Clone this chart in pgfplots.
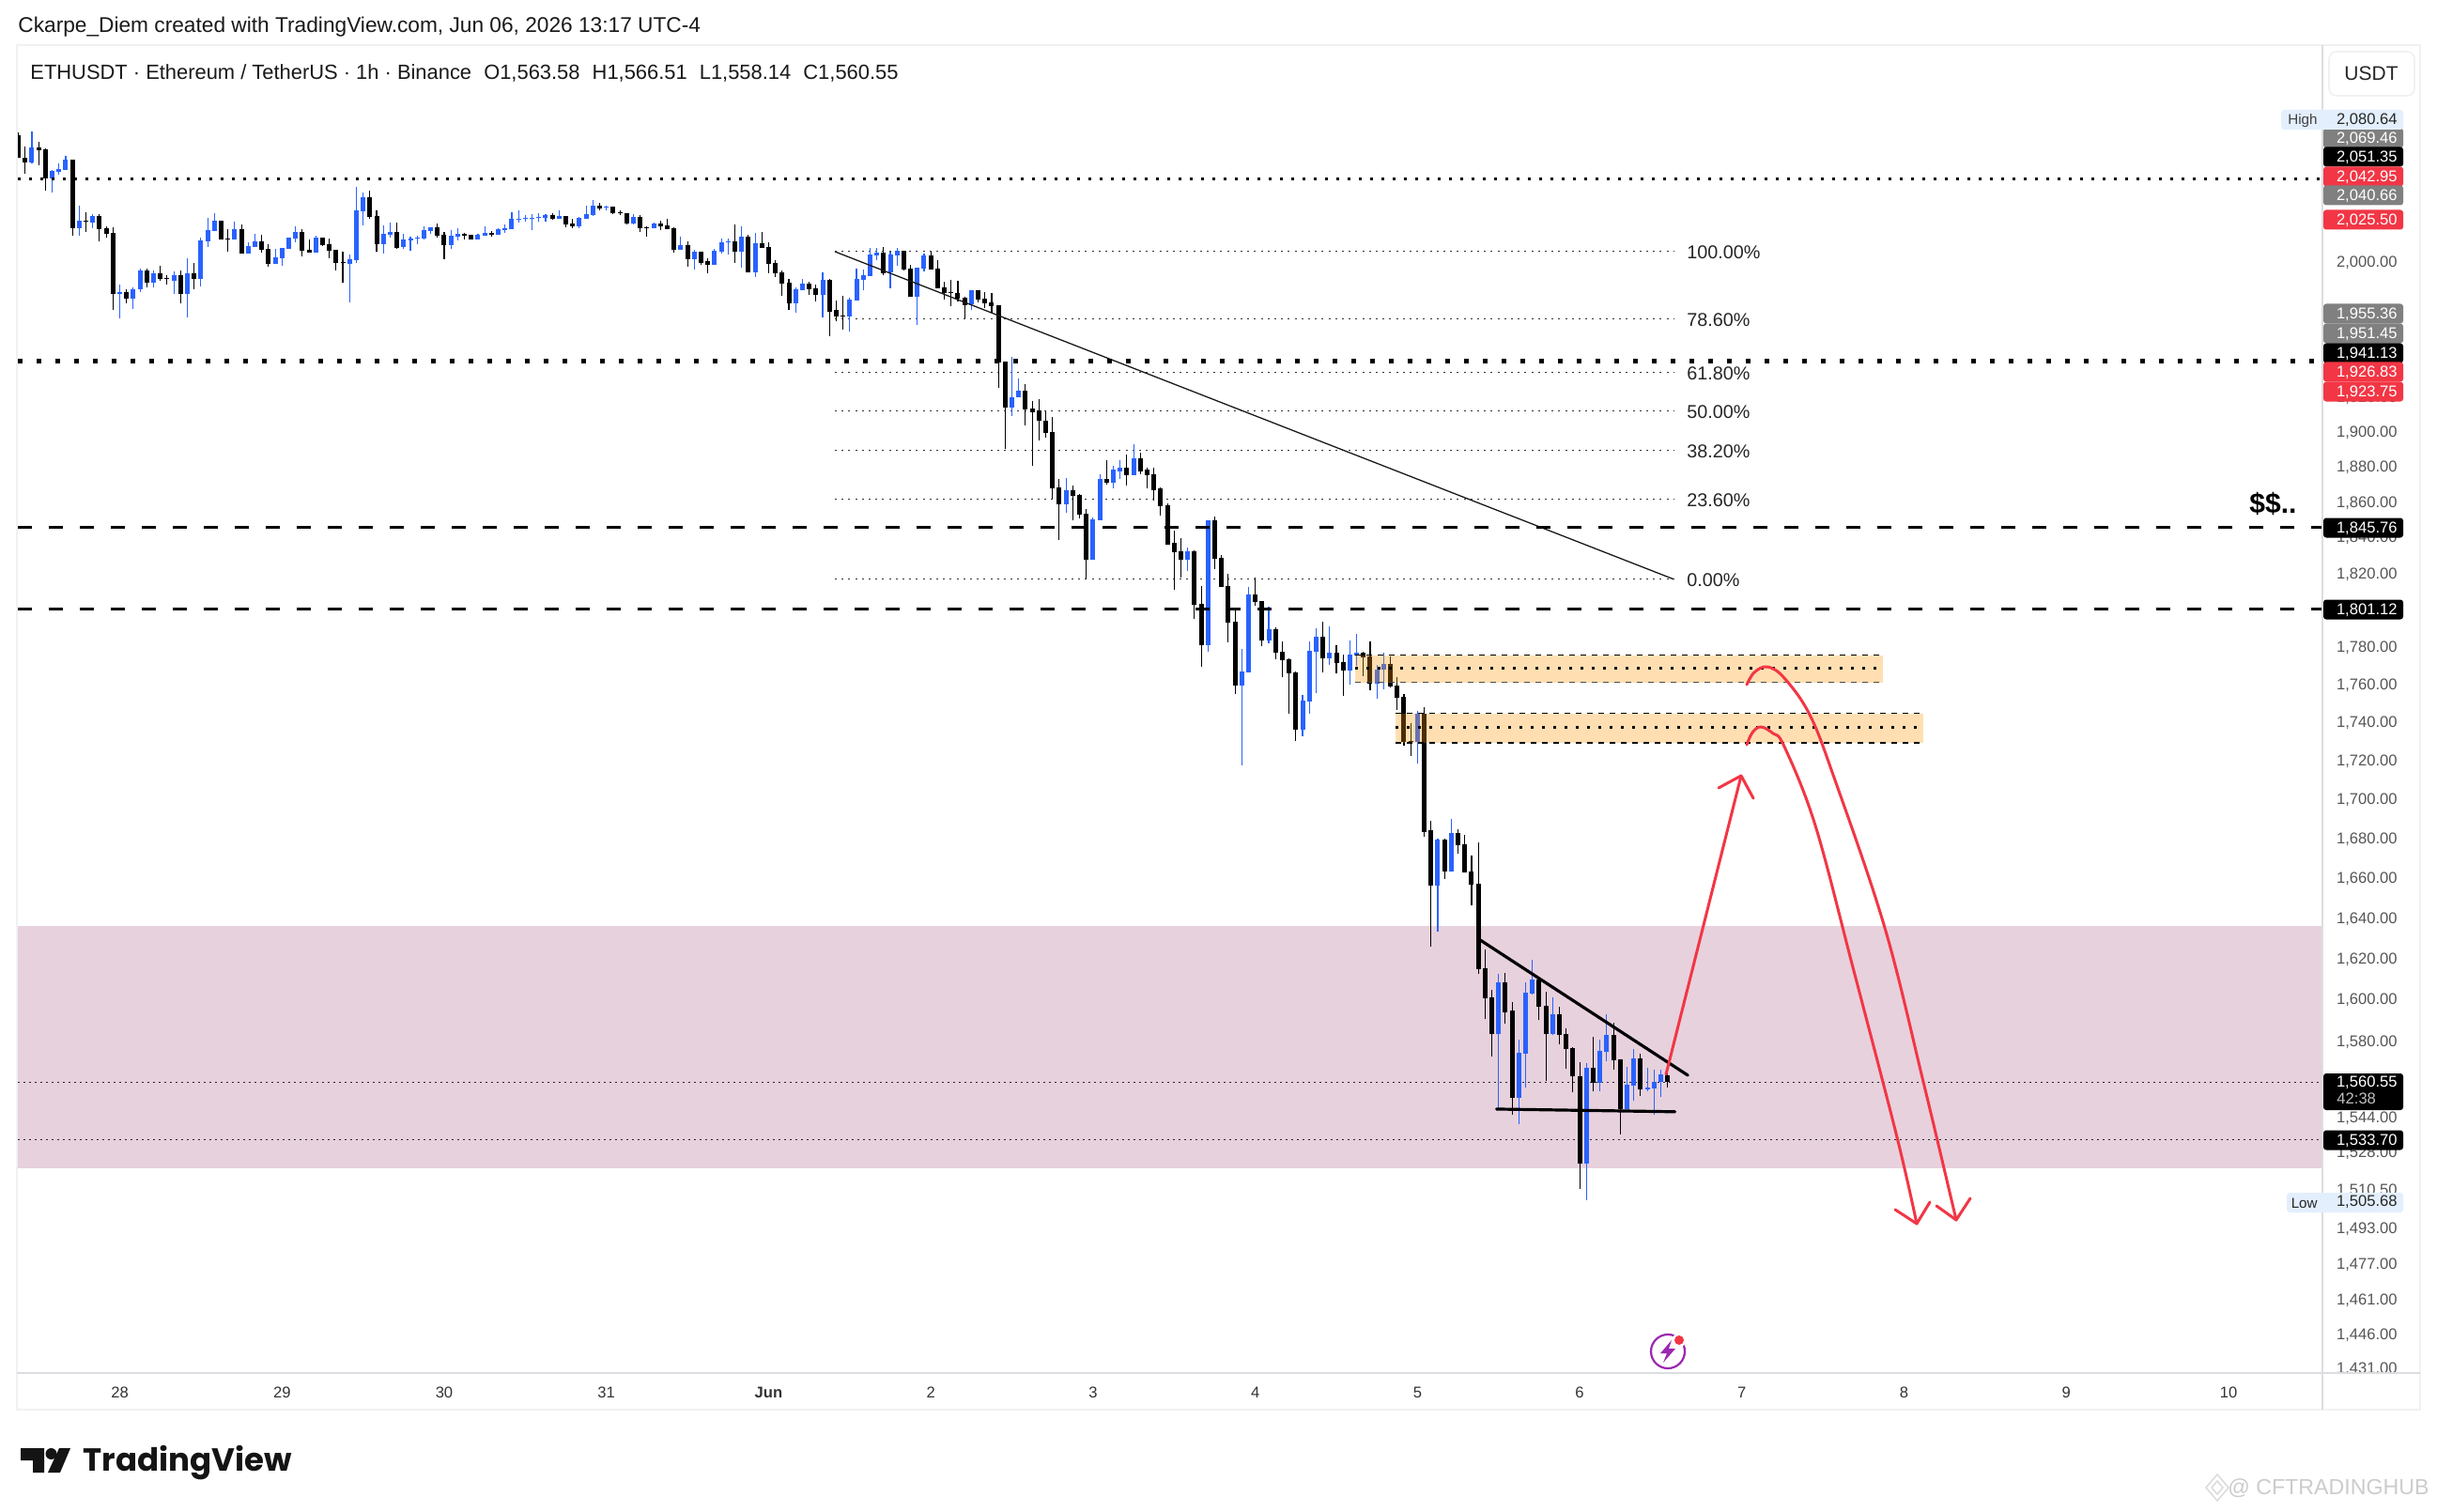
\documentclass[border=0pt]{standalone}
\usepackage{pgfplots}
\usepackage{pgfplotstable}
\usepackage{fontspec}
\setmainfont{Liberation Sans}
\newfontfamily\logofont{Poppins}
\pgfplotsset{compat=1.18}
\definecolor{tvblue}{HTML}{2962FF}
\definecolor{tvred}{HTML}{F23645}
\definecolor{tvgray}{HTML}{808080}
\definecolor{tvpink}{HTML}{E7D1DD}
\definecolor{tvorange}{HTML}{FF9800}
\definecolor{tvframe}{HTML}{F0F1F3}
\definecolor{tvsep}{HTML}{DCDDE0}
\definecolor{tvtick}{HTML}{555555}
\definecolor{tvlight}{HTML}{E3EFFD}
\definecolor{tvpurple}{HTML}{9C27B0}
% x = hours since 28 May 00:00, hi / body top / body bottom / lo = prices
\pgfplotstableread{
x hi top bot lo
-13 2080.6 2070.6 2061.1 2060.5
-10 2056.4 2055.8 2051.1 2042.2
-9 2060.5 2057.0 2055.2 2053.5
-8 2065.3 2062.9 2056.4 2056.4
-6 2034.0 2024.8 2020.3 2015.7
-4 2028.8 2027.7 2023.7 2020.3
0 1986.2 1982.2 1980.5 1966.5
2 1984.5 1983.9 1977.7 1972.1
3 1996.4 1995.3 1983.4 1982.2
5 1995.3 1993.6 1987.3 1984.5
8 1994.1 1991.9 1989.0 1981.1
10 2002.1 1993.6 1980.5 1967.0
12 2014.6 2012.9 1989.6 1985.1
13 2026.5 2019.1 2012.3 2008.9
14 2029.4 2024.8 2018.6 2018.6
17 2024.2 2019.7 2013.5 2013.5
19 2011.8 2009.5 2004.9 2004.9
20 2016.9 2012.3 2008.9 2008.9
23 2007.8 2002.7 1998.7 1998.7
24 2008.3 2008.3 2002.1 1998.1
25 2014.6 2014.6 2007.8 2007.8
26 2021.4 2018.0 2014.0 2011.8
29 2015.7 2014.6 2005.5 2005.5
34 2004.4 2001.5 1998.7 1976.0
35 2045.8 2031.1 2001.0 1999.3
36 2042.2 2039.3 2030.5 2022.0
39 2022.0 2016.9 2010.6 2004.9
40 2023.7 2018.0 2016.3 2014.6
42 2016.9 2013.5 2008.9 2007.8
43 2015.2 2014.0 2012.9 2006.6
44 2015.7 2014.6 2014.0 2010.6
45 2021.4 2019.1 2014.0 2013.5
46 2020.8 2020.8 2018.6 2016.9
49 2019.1 2015.7 2010.1 2007.8
50 2020.3 2016.9 2015.2 2012.9
53 2016.9 2016.3 2013.5 2013.5
54 2021.4 2017.4 2015.7 2015.7
56 2020.3 2019.7 2016.3 2016.3
57 2022.5 2020.3 2019.1 2017.4
58 2029.9 2025.9 2019.7 2019.7
59 2031.6 2025.9 2025.4 2023.7
60 2028.3 2026.5 2025.9 2024.2
61 2028.8 2026.5 2025.9 2019.0
62 2029.4 2027.1 2026.5 2024.2
63 2028.8 2028.2 2026.5 2024.2
65 2031.1 2027.6 2025.9 2025.9
68 2027.1 2026.5 2021.3 2020.2
69 2033.9 2028.8 2025.9 2025.9
70 2037.4 2033.9 2028.2 2027.6
72 2034.5 2033.4 2032.8 2031.1
76 2028.8 2027.1 2023.1 2022.5
79 2023.6 2023.1 2020.2 2020.2
83 2015.0 2009.9 2007.0 2007.0
85 2007.0 2005.9 2001.3 1995.5
88 2007.6 2006.4 1998.4 1998.4
89 2013.9 2011.6 2005.9 2004.7
90 2013.9 2012.2 2011.6 2004.1
92 2021.3 2015.0 2005.9 1996.7
94 2017.3 2011.0 1993.8 1991.0
100 1984.8 1983.7 1975.3 1969.8
101 1989.8 1987.0 1983.1 1983.1
104 1993.8 1989.2 1980.3 1967.0
108 1978.6 1977.5 1967.5 1958.6
109 1996.1 1989.8 1977.0 1977.0
110 1995.5 1992.1 1989.2 1983.1
111 2008.2 2004.1 1991.5 1991.5
112 2008.2 2005.3 2003.6 2000.7
114 2005.9 2004.1 1993.8 1984.2
115 2008.2 2006.4 2003.6 1997.8
118 1996.7 1996.7 1979.2 1962.5
119 2004.7 2003.6 1996.1 1994.4
126 1983.1 1983.1 1974.8 1971.4
132 1943.5 1920.1 1914.1 1909.2
133 1930.9 1923.9 1919.5 1919.5
140 1873.7 1866.7 1858.7 1854.0
144 1851.4 1850.4 1827.5 1827.5
145 1875.8 1873.2 1849.8 1849.8
147 1880.1 1878.0 1871.0 1867.8
148 1883.3 1879.6 1877.4 1873.2
150 1892.9 1884.4 1875.3 1874.8
158 1834.3 1832.2 1827.5 1821.3
161 1849.8 1849.8 1781.0 1777.5
166 1779.0 1766.9 1759.3 1717.5
167 1812.5 1808.7 1766.4 1766.4
170 1801.7 1789.6 1783.5 1782.0
175 1754.3 1751.4 1736.2 1732.7
176 1783.0 1777.9 1750.9 1744.5
177 1790.1 1785.5 1777.5 1755.3
179 1791.1 1777.0 1773.9 1770.4
182 1783.5 1776.0 1767.4 1760.0
183 1787.0 1777.0 1775.5 1769.9
186 1770.4 1768.1 1760.3 1752.3
187 1777.0 1770.9 1767.9 1757.3
192 1746.0 1744.5 1729.7 1718.5
195 1679.6 1679.1 1656.0 1633.2
197 1689.5 1682.5 1663.1 1663.1
204 1612.5 1608.4 1583.2 1547.3
207 1580.5 1574.3 1552.9 1540.7
208 1608.4 1603.3 1573.8 1557.7
209 1619.4 1609.8 1602.9 1602.4
212 1601.1 1593.0 1583.2 1582.7
217 1569.3 1567.1 1522.5 1505.7
219 1580.5 1575.2 1560.0 1556.4
220 1593.0 1582.7 1574.7 1570.2
223 1567.6 1559.1 1547.7 1547.7
224 1576.0 1571.5 1558.6 1551.6
226 1567.1 1557.7 1556.8 1556.4
227 1566.3 1560.8 1557.3 1545.1
228 1566.3 1564.0 1560.4 1553.4
}\upcandles
\pgfplotstableread{
x hi top bot lo
-15 2079.8 2078.2 2063.7 2063.7
-14 2071.2 2064.1 2061.1 2054.0
-12 2074.1 2070.6 2068.8 2059.4
-11 2069.8 2069.4 2051.1 2043.4
-7 2062.9 2062.9 2020.3 2015.7
-5 2029.9 2024.8 2024.2 2018.0
-3 2028.8 2027.7 2019.7 2012.3
-2 2021.4 2020.3 2016.9 2014.6
-1 2020.8 2017.4 1980.5 1971.5
1 1983.4 1982.2 1977.7 1975.4
4 1995.9 1995.3 1987.3 1984.5
6 1998.1 1993.6 1989.6 1988.5
7 1992.4 1990.2 1989.6 1986.2
9 1994.7 1991.9 1980.5 1974.9
11 1999.3 1993.6 1989.6 1983.4
15 2024.8 2024.8 2013.5 2013.5
16 2019.7 2014.0 2013.5 2006.1
18 2022.5 2019.7 2004.9 2004.9
21 2016.3 2012.3 2007.2 2005.5
22 2010.6 2007.8 1998.7 1997.0
27 2019.7 2018.0 2006.6 2003.2
28 2013.5 2007.2 2005.5 2005.5
30 2014.6 2014.6 2010.1 2009.5
31 2014.0 2010.6 2006.6 2002.1
32 2007.2 2007.2 1999.3 1994.7
33 2006.1 1999.8 1999.3 1987.9
37 2043.4 2039.3 2027.1 2026.0
38 2031.1 2027.7 2010.6 2006.1
41 2023.7 2018.0 2008.3 2007.8
47 2023.1 2020.8 2015.7 2014.6
48 2018.0 2016.3 2010.1 2001.5
51 2017.4 2016.9 2015.7 2013.5
52 2016.3 2016.3 2013.5 2013.5
55 2018.6 2017.4 2016.3 2015.2
64 2029.4 2028.2 2025.9 2025.3
66 2027.6 2027.6 2022.5 2020.8
67 2025.9 2023.1 2021.3 2020.2
71 2036.2 2033.9 2032.2 2031.6
73 2033.4 2033.4 2029.4 2028.8
74 2031.1 2029.9 2029.4 2028.2
75 2029.4 2029.4 2023.1 2022.5
77 2028.2 2027.1 2020.2 2017.9
78 2021.3 2020.8 2020.2 2015.0
80 2024.8 2023.1 2021.3 2019.0
81 2025.9 2021.9 2019.6 2019.6
82 2020.8 2020.2 2007.0 2005.3
84 2012.2 2009.9 2001.3 1997.3
86 2005.9 2005.9 1999.6 1998.4
87 2001.9 2000.1 1998.4 1993.3
91 2022.5 2012.2 2005.9 1999.6
93 2016.2 2015.0 1993.8 1993.8
95 2017.9 2011.0 2008.2 2008.2
96 2011.6 2008.7 1999.0 1993.3
97 2000.7 1999.6 1993.3 1991.0
98 1995.0 1993.8 1987.0 1979.8
99 1989.8 1987.5 1975.3 1971.4
102 1988.1 1987.0 1983.7 1980.3
103 1986.4 1984.2 1980.3 1976.4
105 1989.8 1989.2 1970.3 1955.8
106 1977.0 1970.9 1967.5 1964.2
107 1979.8 1968.1 1967.5 1959.7
113 2008.7 2005.3 1993.3 1992.1
116 2006.4 2006.4 1995.5 1995.0
117 1998.4 1996.1 1979.2 1979.2
120 2005.9 2003.6 1995.5 1995.5
121 2000.7 1996.1 1984.2 1984.2
122 1988.1 1984.8 1981.4 1977.5
123 1989.2 1982.0 1981.4 1973.6
124 1988.7 1981.4 1978.1 1976.4
125 1979.2 1978.6 1974.2 1966.4
127 1983.1 1983.1 1977.5 1975.9
128 1982.0 1978.1 1975.3 1972.0
129 1981.4 1975.9 1973.6 1969.8
130 1974.2 1974.2 1940.3 1925.5
131 1940.8 1940.8 1914.1 1889.8
134 1927.6 1923.9 1912.5 1903.3
135 1917.4 1913.1 1911.4 1880.4
136 1918.5 1912.0 1906.0 1895.1
137 1911.4 1906.3 1899.5 1896.7
138 1908.8 1899.9 1867.8 1861.9
139 1873.2 1868.3 1858.7 1838.8
141 1869.4 1866.7 1863.5 1849.8
142 1864.6 1864.1 1852.9 1850.9
143 1856.1 1853.5 1827.5 1816.6
146 1883.9 1873.2 1871.0 1869.9
149 1886.5 1879.6 1875.3 1869.4
151 1888.1 1884.4 1877.4 1875.8
152 1879.6 1878.0 1875.3 1867.8
153 1879.6 1875.8 1866.7 1860.9
154 1868.3 1867.3 1857.6 1852.4
155 1859.2 1858.2 1836.3 1835.8
156 1843.6 1836.9 1831.7 1810.9
157 1839.5 1832.2 1827.5 1817.7
159 1833.2 1832.2 1802.7 1795.1
160 1813.0 1803.2 1781.0 1769.4
162 1851.9 1849.8 1828.0 1822.3
163 1830.7 1828.6 1812.5 1812.5
164 1820.1 1813.0 1793.1 1782.5
165 1800.2 1793.6 1759.3 1754.8
168 1817.7 1808.7 1804.7 1802.2
169 1805.2 1805.2 1783.5 1780.5
171 1790.6 1789.6 1777.0 1773.5
172 1783.0 1777.5 1772.9 1763.9
173 1773.9 1773.4 1765.9 1744.5
174 1766.9 1766.4 1736.2 1730.2
178 1794.1 1785.5 1773.9 1766.4
180 1781.0 1777.0 1771.5 1765.9
181 1776.0 1772.0 1767.4 1753.8
184 1777.5 1777.0 1774.4 1764.4
185 1783.0 1774.9 1760.3 1756.8
188 1774.9 1770.9 1758.8 1758.3
189 1763.9 1759.3 1752.8 1746.4
190 1754.8 1753.3 1729.7 1727.8
191 1739.6 1730.2 1729.4 1722.4
193 1747.9 1744.5 1683.2 1680.8
194 1689.1 1683.9 1656.0 1625.9
196 1679.6 1679.1 1663.1 1659.3
198 1684.8 1682.5 1676.3 1672.0
199 1681.5 1676.8 1662.6 1662.6
200 1671.1 1663.1 1656.4 1646.1
201 1677.7 1656.9 1614.8 1612.5
202 1624.5 1615.3 1600.6 1590.8
203 1604.7 1601.1 1583.2 1572.5
205 1613.0 1608.4 1593.9 1588.1
206 1598.8 1594.4 1552.9 1545.1
210 1610.7 1609.8 1596.6 1589.9
211 1603.8 1597.0 1583.2 1561.3
213 1596.6 1593.0 1582.7 1578.3
214 1585.9 1583.2 1576.0 1566.7
215 1576.9 1576.5 1563.1 1555.5
216 1569.8 1563.4 1522.5 1510.7
218 1581.9 1567.1 1560.0 1556.0
221 1588.6 1582.7 1570.7 1566.3
222 1571.1 1571.1 1547.7 1536.0
225 1573.8 1571.5 1556.8 1554.2
229 1566.5 1563.6 1560.6 1558.1
}\downcandles
\newcommand\wicks[2]{\addplot[draw=none,mark=none,forget plot,error bars/.cd,y dir=plus,y explicit,error mark=none,error bar style={draw=#2,line width=0.55pt}] table[x=x,y=lo,y error expr=\thisrow{hi}-\thisrow{lo}] {#1};}
\newcommand\bodies[2]{\addplot[draw=none,mark=none,forget plot,error bars/.cd,y dir=plus,y explicit,error mark=none,error bar style={draw=#2,line width=2.5pt}] table[x=x,y=bot,y error expr=\thisrow{top}-\thisrow{bot}] {#1};}
\newcommand\lbl[4]{\fill[#2,rounded corners=1.5pt] (2474,#1-10.5) rectangle (2559,#1+10.5); \node[anchor=east,inner sep=0pt,yshift=-0.4pt,text=#3,font=\fontsize{8.3}{10}\selectfont] at (2553,#1) {#4};}
\begin{document}
\begin{tikzpicture}
\fill[white] (0,0) rectangle (1297.5pt,-805pt);
\useasboundingbox (0,0) rectangle (1297.5pt,-805pt);
\begin{axis}[
  at={(9.25pt,-731pt)}, anchor=south west,
  scale only axis, width=1227.25pt, height=707pt,
  xmin=-15.15, xmax=325.9, ymin=1429.1, ymax=2135.7, ymode=log,
  axis line style={draw=none}, major tick length=0pt, minor tick length=0pt,
  xtick={0,24,48,72,96,120,144,168,192,216,240,264,288,312},
  xticklabels={28,29,30,31,\textbf{Jun},2,3,4,5,6,7,8,9,10},
  ytick={2000,1920,1900,1880,1860,1840,1820,1780,1760,1740,1720,1700,1680,1660,1640,1620,1600,1580,1544,1528,1510.5,1493,1477,1461,1446,1431},
  yticklabels={{2,000.00},{1,920.00},{1,900.00},{1,880.00},{1,860.00},{1,840.00},{1,820.00},{1,780.00},{1,760.00},{1,740.00},{1,720.00},{1,700.00},{1,680.00},{1,660.00},{1,640.00},{1,620.00},{1,600.00},{1,580.00},{1,544.00},{1,528.00},{1,510.50},{1,493.00},{1,477.00},{1,461.00},{1,446.00},{1,431.00}},
  ytick pos=right, xtick pos=bottom,
  yticklabel pos=right,
  yticklabel style={anchor=east,xshift=40pt,yshift=-0.5pt,inner sep=0pt,text=tvtick,font=\fontsize{8.3}{10}\selectfont},
  xticklabel style={anchor=center,yshift=-10.5pt,inner sep=0pt,text=black!80,font=\fontsize{8.3}{10}\selectfont},
]
% demand zone
\addplot[fill=tvpink,draw=none,forget plot] coordinates {(-15.15,1520.2)(325.9,1520.2)(325.9,1636)(-15.15,1636)} -- cycle;
% fibonacci levels
\foreach \lv in {2006.1,1965.6,1934.1,1911.7,1889,1861.3,1816.9}{
  \edef\tmp{\noexpand\addplot[draw=black!80,line width=0.5pt,dash pattern=on 1pt off 2.6pt,forget plot] coordinates {(105.8,\lv)(229.9,\lv)};}\tmp
}
% price lines
\addplot[draw=black!85,line width=0.5pt,dash pattern=on 1pt off 2pt,forget plot] coordinates {(-15.15,1560.55)(325.9,1560.55)};
\addplot[draw=black!85,line width=0.5pt,dash pattern=on 1pt off 2pt,forget plot] coordinates {(-15.15,1533.7)(325.9,1533.7)};
% candles
\wicks{\upcandles}{tvblue}
\wicks{\downcandles}{black}
\bodies{\upcandles}{tvblue}
\bodies{\downcandles}{black}
% fib trend line
\addplot[draw=black!90,line width=0.65pt,forget plot] coordinates {(105.8,2006.1)(229.9,1816.9)};
% horizontal levels
\addplot[draw=black,line width=1.5pt,dash pattern=on 1.5pt off 4.5pt,forget plot] coordinates {(-15.15,2051.0)(325.9,2051.0)};
\addplot[draw=black,line width=2.5pt,dash pattern=on 2.5pt off 7.5pt,forget plot] coordinates {(-15.15,1940.9)(325.9,1940.9)};
\addplot[draw=black,line width=1.6pt,dash pattern=on 7.5pt off 9pt,forget plot] coordinates {(-15.15,1845.6)(325.9,1845.6)};
\addplot[draw=black,line width=1.6pt,dash pattern=on 7.5pt off 9pt,forget plot] coordinates {(-15.15,1800.7)(325.9,1800.7)};
% supply zones
\addplot[fill=tvorange,fill opacity=0.3,draw=none,forget plot] coordinates {(182.8,1761.0)(260.9,1761.0)(260.9,1775.6)(182.8,1775.6)} -- cycle;
\addplot[fill=tvorange,fill opacity=0.3,draw=none,forget plot] coordinates {(188.8,1729.2)(266.9,1729.2)(266.9,1744.6)(188.8,1744.6)} -- cycle;
\addplot[draw=black,line width=0.6pt,dash pattern=on 3pt off 3pt,forget plot] coordinates {(182.8,1775.6)(260.9,1775.6)};
\addplot[draw=black!70,line width=0.6pt,dash pattern=on 3pt off 3pt,forget plot] coordinates {(182.8,1761.0)(260.9,1761.0)};
\addplot[draw=black,line width=1.5pt,dash pattern=on 1.5pt off 4.5pt,forget plot] coordinates {(182.8,1768.6)(260.9,1768.6)};
\addplot[draw=black,line width=0.6pt,dash pattern=on 3pt off 3pt,forget plot] coordinates {(188.8,1744.6)(266.9,1744.6)};
\addplot[draw=black,line width=0.6pt,dash pattern=on 3pt off 3pt,forget plot] coordinates {(188.8,1729.2)(266.9,1729.2)};
\addplot[draw=black,line width=1.5pt,dash pattern=on 1.5pt off 4.5pt,forget plot] coordinates {(188.8,1737.3)(266.9,1737.3)};
% triangle
\addplot[draw=black,line width=1.6pt,line cap=round,forget plot] coordinates {(201.3,1629.0)(232.0,1563.7)};
\addplot[draw=black,line width=1.6pt,line cap=round,forget plot] coordinates {(203.7,1547.8)(230.1,1546.5)};
\end{axis}
\begin{scope}[x=0.5pt,y=-0.5pt]
% frame
\fill[white] (2474,1462) rectangle (2576,1476);
\draw[tvframe,line width=0.9pt] (18,48) rectangle (2577,1501);
\draw[tvsep,line width=0.7pt] (18,1462) -- (2577,1462);
\draw[tvsep,line width=0.7pt] (2473,48) -- (2473,1501);
% red paths
\begin{scope}[draw=tvred,line width=1.5pt,line cap=round,line join=round]
\draw (1774,1144) -- (1854,826);
\draw (1830,839) -- (1854,826) -- (1867,850);
\draw plot[smooth,tension=0.6] coordinates {(1860,729)(1868,716)(1882,710)(1900,722)(1927,761)(1953,828)(2007,988)(2048,1152)(2083,1299)};
\draw (2062,1284) -- (2083,1299) -- (2098,1276);
\draw plot[smooth,tension=0.6] coordinates {(1860,793)(1866,780)(1875,774)(1888,781)(1900,795)(1933,879)(1973,1030)(2020,1211)(2041,1303)};
\draw (2018,1288) -- (2041,1303) -- (2055,1280);
\end{scope}
% fib labels
\foreach \yy/\tt in {269/100.00\%,341/78.60\%,398/61.80\%,439/50.00\%,481/38.20\%,533/23.60\%,618/0.00\%}{
  \node[anchor=west,inner sep=0pt,text=black!85,font=\fontsize{9.9}{11}\selectfont] at (1796,\yy) {\tt};
}
% price labels
\lbl{147}{tvgray}{white}{2,069.46}
\lbl{167}{black}{white}{2,051.35}
\lbl{188}{tvred}{white}{2,042.95}
\lbl{208}{tvgray}{white}{2,040.66}
\lbl{234}{tvred}{white}{2,025.50}
\lbl{334}{tvgray}{white}{1,955.36}
\lbl{355}{tvgray}{white}{1,951.45}
\lbl{376}{black}{white}{1,941.13}
\lbl{396}{tvred}{white}{1,926.83}
\lbl{417}{tvred}{white}{1,923.75}
\lbl{562}{black}{white}{1,845.76}
\lbl{649}{black}{white}{1,801.12}
\lbl{1214}{black}{white}{1,533.70}
% last price
\fill[black,rounded corners=1.5pt] (2474,1143) rectangle (2559,1182);
\node[anchor=east,inner sep=0pt,text=white,font=\fontsize{8.3}{10}\selectfont] at (2553,1153) {1,560.55};
\node[anchor=west,inner sep=0pt,text=white!75!black,font=\fontsize{8.3}{10}\selectfont] at (2488,1170) {42:38};
% high / low
\fill[tvlight,rounded corners=1.5pt] (2429,117) rectangle (2559,138);
\node[anchor=east,inner sep=0pt,text=black!85,font=\fontsize{8.3}{10}\selectfont] at (2553,128) {2,080.64};
\node[anchor=east,inner sep=0pt,text=black!75,font=\fontsize{7.6}{10}\selectfont] at (2468,128.5) {High};
\fill[tvlight,rounded corners=1.5pt] (2435,1270) rectangle (2559,1291);
\node[anchor=east,inner sep=0pt,text=black!85,font=\fontsize{8.3}{10}\selectfont] at (2553,1280) {1,505.68};
\node[anchor=east,inner sep=0pt,text=black!85,font=\fontsize{7.6}{10}\selectfont] at (2468,1281) {Low};
% USDT button
\draw[tvframe,line width=0.8pt,rounded corners=4pt,fill=white] (2480,55) rectangle (2571,102);
\node[inner sep=0pt,text=black!85,font=\fontsize{10.5}{12}\selectfont] at (2525,78) {USDT};
% $$..
\node[anchor=west,inner sep=0pt,font=\fontsize{15}{17}\selectfont\bfseries] at (2395,536) {\$\$..};
% headers
\node[anchor=west,inner sep=0pt,text=black!90,font=\fontsize{11.35}{13}\selectfont] at (19,29) {Ckarpe\_Diem created with TradingView.com, Jun 06, 2026 13:17 UTC-4};
\node[anchor=west,inner sep=0pt,text=black!90,font=\fontsize{10.95}{13}\selectfont] at (32,78) {ETHUSDT · Ethereum / TetherUS · 1h · Binance\hspace{0.6em}O1,563.58\hspace{0.6em}H1,566.51\hspace{0.6em}L1,558.14\hspace{0.6em}C1,560.55};
% logo
\fill[black!92] (22,1542) -- (47,1542) -- (47,1568) -- (35,1568) -- (35,1555) -- (22,1555) -- cycle;
\fill[black!92] (54.5,1548) circle (6);
\fill[black!92] (63,1542) -- (75,1542) -- (64,1568) -- (51,1568) -- cycle;
\node[anchor=west,inner sep=0pt,text=black!92,font=\logofont\bfseries\fontsize{17}{20}\selectfont] at (88,1558) {TradingView};
% replay icon
\draw[tvpurple,line width=1.1pt] (1776,1439) circle (18);
\fill[tvpurple] (1780,1427) -- (1768,1441) -- (1775,1441) -- (1771,1451) -- (1784,1436) -- (1777,1436) -- cycle;
\fill[white] (1788,1427) circle (7.5);
\fill[tvred] (1788,1427) circle (5);
% watermark
\node[anchor=east,inner sep=0pt,text=black!20,font=\fontsize{11.6}{13}\selectfont] at (2587,1585) {@ CFTRADINGHUB};
\draw[black!15,line width=0.7pt] (2361,1570) -- (2373,1584) -- (2361,1598) -- (2349,1584) -- cycle;
\draw[black!15,line width=0.7pt] (2361,1577) -- (2367,1584) -- (2361,1591) -- (2355,1584) -- cycle;
\end{scope}
\end{tikzpicture}
\end{document}
